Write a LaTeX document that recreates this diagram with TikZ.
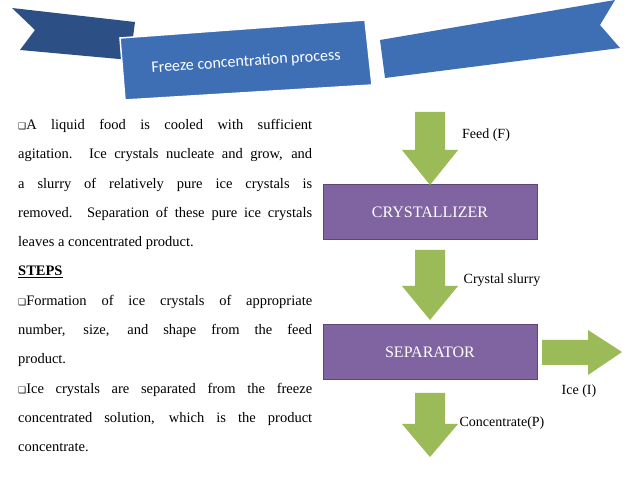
\documentclass[tikz,border=0pt]{standalone}
\usepackage{fontspec}
\setmainfont{Liberation Serif}
\newfontfamily\dejavu{DejaVu Sans}
\newfontfamily\banfont{Carlito}
\definecolor{pur}{HTML}{8064A2}
\definecolor{pbord}{HTML}{5C4776}
\definecolor{grn}{HTML}{9BBB59}
\definecolor{blu}{HTML}{3E6FB5}
\definecolor{blud}{HTML}{2C4F86}
\begin{document}
\begin{tikzpicture}[x=1pt,y=-1pt,
  proc/.style={draw=pbord,line width=1pt,fill=pur,text=white,minimum width=214pt,minimum height=55pt,font=\fontsize{16}{18}\selectfont},
  garrow/.style={fill=grn,draw=none},
  lbl/.style={font=\fontsize{14}{16}\selectfont}]
\useasboundingbox[fill=white] (0,0) rectangle (638,478);
% banner
\fill[blud] (12,8) -- (135,22) -- (130,60) -- (20,50) -- (35,30) -- cycle;
\fill[blu] (380,40) -- (615,0) -- (600,25) -- (620,48) -- (385,78) -- cycle;
\fill[blu,draw=white,line width=1.5pt] (120,38) -- (365,20) -- (372,85) -- (125,100) -- cycle;
\node[text=white,rotate=4,font=\banfont\fontsize{16}{18}\selectfont] (title) at (246,62) {Freeze concentration process};
% left text
\node[anchor=north west,text width=294pt,align=justify,inner sep=0pt,font=\fontsize{14.5}{29.3}\selectfont] (txt) at (18,119) {%
{\dejavu\small ❑}A liquid food is cooled with sufficient\linebreak agitation. Ice crystals nucleate and grow, and\linebreak a slurry of relatively pure ice crystals is\linebreak removed. Separation of these pure ice crystals\linebreak leaves a concentrated product.\\
\textbf{\underline{STEPS}}\\
{\dejavu\small ❑}Formation of ice crystals of appropriate\linebreak number, size, and shape from the feed\linebreak product.\\
{\dejavu\small ❑}Ice crystals are separated from the freeze\linebreak concentrated solution, which is the product\linebreak concentrate.};
% diagram
\node[proc] (cry) at (430,212) {CRYSTALLIZER};
\node[proc] (sep) at (430,352) {SEPARATOR};
\fill[garrow] (415,112) -- (445,112) -- (445,150) -- (458,150) -- (430,185) -- (402,150) -- (415,150) -- cycle;
\fill[garrow] (415,250) -- (445,250) -- (445,286) -- (458,286) -- (430,320) -- (402,286) -- (415,286) -- cycle;
\fill[garrow] (415,393) -- (445,393) -- (445,424) -- (458,424) -- (430,457) -- (402,424) -- (415,424) -- cycle;
\fill[garrow] (542,340) -- (588,340) -- (588,330) -- (622,352) -- (588,375) -- (588,365) -- (542,365) -- cycle;
\node[lbl] (f) at (486,135) {Feed (F)};
\node[lbl] (cs) at (502,280) {Crystal slurry};
\node[lbl] (ice) at (579,391) {Ice (I)};
\node[lbl] (cp) at (502,423) {Concentrate(P)};
\end{tikzpicture}
\end{document}
